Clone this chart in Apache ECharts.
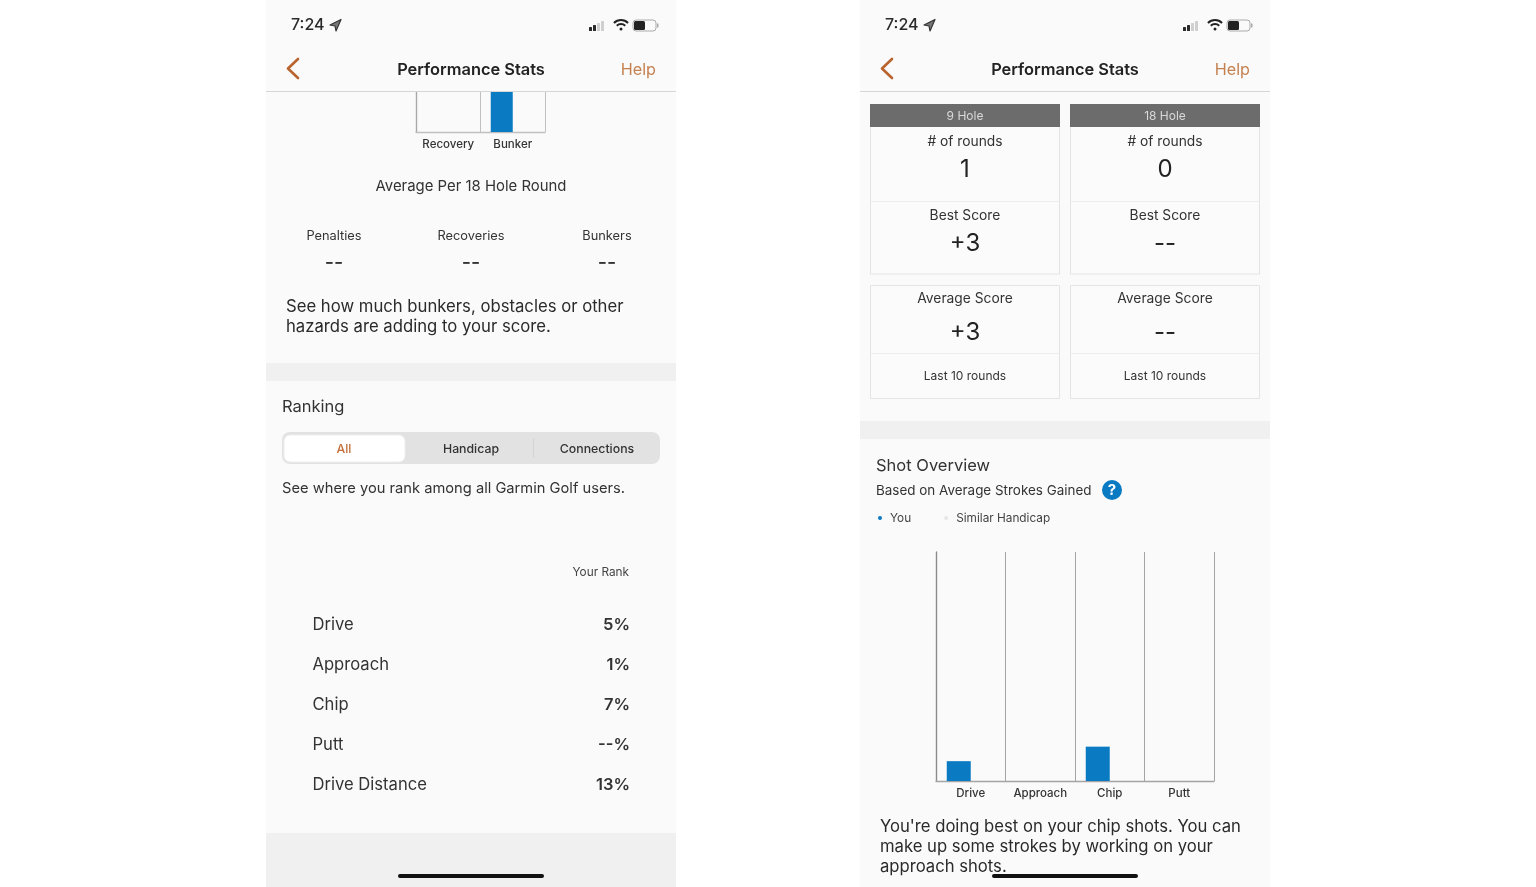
<!DOCTYPE html>
<html>
<head>
<meta charset="utf-8">
<title>Performance Stats</title>
<style>
  html, body { margin: 0; padding: 0; background: #fff; }
  #chart { width: 1536px; height: 887px; }
</style>
<script src="https://cdn.jsdelivr.net/npm/echarts@6/dist/echarts.min.js"></script>
</head>
<body>
<div id="chart"></div>
<script>
// chart data
var shotCategories = ['Drive', 'Approach', 'Chip', 'Putt'];
var shotYou = [0.26, null, 0.45, null];
var shotSimilar = [null, null, null, null];
var hazardCategories = ['Recovery', 'Bunker'];
var hazardYou = [null, 0.9];
var hazardSimilar = [null, null];
var yTickValues = [0.5, 1.5, 2.5];
var yTickLabels = ['Below\nAvg', 'Avg', 'Above\nAvg'];

// table data
var rankNames = ['Drive', 'Approach', 'Chip', 'Putt', 'Drive Distance'];
var rankValues = ['5%', '1%', '7%', '--%', '13%'];
var hazardStatNames = ['Penalties', 'Recoveries', 'Bunkers'];
var hazardStatValues = ['--', '--', '--'];
var rankTabs = ['All', 'Handicap', 'Connections'];

var FONT = 'Inter, "Noto Sans", sans-serif';
var BLUE = '#0a7bc2';
var ORANGE = '#b9632f';
var PHONE_W = 410;
var LEFT_X = 266;
var RIGHT_X = 860;

var els = [];

function rect(x, y, w, h, fill, z, r, stroke) {
    els.push({
        type: 'rect', silent: true, z: z === undefined ? -1 : z,
        shape: { x: x, y: y, width: w, height: h, r: r || 0 },
        style: { fill: fill, stroke: stroke || null, lineWidth: stroke ? 1 : 0 }
    });
}

function text(str, x, y, size, color, align, weight, z) {
    els.push({
        type: 'text', silent: true, z: z === undefined ? 1 : z,
        style: {
            text: str, x: x, y: y + 1, fill: color,
            textAlign: align || 'left', textVerticalAlign: 'middle',
            font: (weight || 400) + ' ' + size + 'px ' + FONT
        }
    });
}

function polyline(points, stroke, width) {
    els.push({
        type: 'polyline', silent: true, z: 101,
        shape: { points: points },
        style: { stroke: stroke, fill: null, lineWidth: width, lineCap: 'round', lineJoin: 'round' }
    });
}

function wifiArc(cx, cy, r) {
    els.push({
        type: 'arc', silent: true, z: 101,
        shape: { cx: cx, cy: cy, r: r, startAngle: -Math.PI * 0.75, endAngle: -Math.PI * 0.25 },
        style: { stroke: '#222', fill: null, lineWidth: 2 }
    });
}

// nav and status bar, sits above the scrolled content
function phoneHeader(ox) {
    rect(ox, 0, PHONE_W, 91, '#fafafa', 100);
    rect(ox, 91, PHONE_W, 1, '#d6d6d6', 100);
    text('7:24', ox + 25, 24, 16, '#2a2a2a', 'left', 500, 101);
    els.push({
        type: 'polygon', silent: true, z: 101,
        shape: { points: [[ox + 64, 25], [ox + 75, 19.5], [ox + 70, 31], [ox + 69, 26]] },
        style: { stroke: '#333', fill: '#777', lineWidth: 1.2, lineJoin: 'round' }
    });
    var bars = [[323, 27, 3], [327, 25, 3], [331, 23, 3], [335, 21, 3]];
    bars.forEach(function (b, i) {
        rect(ox + b[0], b[1], b[2], 31 - b[1], i < 2 ? '#2a2a2a' : '#cfcfcf', 101, 0.5);
    });
    wifiArc(ox + 355, 30, 10);
    wifiArc(ox + 355, 30, 6);
    els.push({
        type: 'circle', silent: true, z: 101,
        shape: { cx: ox + 355, cy: 29, r: 1.5 },
        style: { fill: '#222' }
    });
    rect(ox + 367, 20, 23, 11, '#fafafa', 101, 3, '#aaa');
    rect(ox + 368, 21, 11, 9, '#222', 102, 1.5);
    rect(ox + 391, 23.5, 1.5, 4, '#aaa', 101);
    polyline([[ox + 32, 59], [ox + 22, 68.5], [ox + 32, 78]], ORANGE, 2.6);
    text('Performance Stats', ox + 205, 69, 16.4, '#222', 'center', 600, 101);
    text('Help', ox + 390, 69, 16.2, '#c5814f', 'right', 400, 101);
}

function homeBar(ox) {
    rect(ox + 132, 874, 146, 4, '#111', 101, 2);
}

[LEFT_X, RIGHT_X].forEach(function (ox) {
    rect(ox, 0, PHONE_W, 887, '#fafafa');
    phoneHeader(ox);
    homeBar(ox);
});

// left phone
text('Average Per 18 Hole Round', 471, 186, 14.9, '#333', 'center');
[334, 471, 607].forEach(function (cx, i) {
    text(hazardStatNames[i], cx, 235, 12.8, '#333', 'center');
    text(hazardStatValues[i], cx, 262, 20, '#333', 'center', 500);
});
text('See how much bunkers, obstacles or other', 286, 305.5, 16.7, '#2a2a2a');
text('hazards are adding to your score.', 286, 325.5, 16.7, '#2a2a2a');
rect(LEFT_X, 363, PHONE_W, 18, '#f0f0f0');
text('Ranking', 282, 406, 16.5, '#333');
rect(282, 432, 378, 32, '#e2e2e2', -1, 8);
rect(284, 435, 121, 27, '#ffffff', 0, 6, '#eeeeee');
rect(533, 439, 1, 18, '#d2d2d2', 0);
[344, 471, 597].forEach(function (cx, i) {
    text(rankTabs[i], cx, 448, 12.3, i === 0 ? '#c5703a' : '#333', 'center', 500);
});
text('See where you rank among all Garmin Golf users.', 282, 488, 14.7, '#333');
text('Your Rank', 629, 571, 11.8, '#444', 'right');
rankNames.forEach(function (name, i) {
    var y = 624 + i * 40;
    text(name, 312.5, y, 16.6, '#333');
    text(rankValues[i], 630, y, 16.5, '#333', 'right', 600);
});
rect(LEFT_X, 833, PHONE_W, 54, '#f0f0f0');

// right phone, score cards
function scoreCard(x, head, rounds, best, avg) {
    var cx = x + 95;
    rect(x + 0.5, 104.5, 189, 169.5, '#fbfbfb', -1, 0, '#e4e4e4');
    rect(x, 104, 190, 23, '#6c6c6c', 0);
    text(head, cx, 115, 12, '#d9d9d9', 'center');
    text('# of rounds', cx, 141, 13.8, '#333', 'center');
    text(rounds, cx, 169, 24, '#222', 'center');
    rect(x + 1, 201, 188, 1, '#eeeeee', 0);
    text('Best Score', cx, 214.5, 13.8, '#333', 'center');
    text(best, cx, 243, 24, '#222', 'center');
    rect(x + 0.5, 285.5, 189, 113, '#fbfbfb', -1, 0, '#e4e4e4');
    text('Average Score', cx, 297.5, 13.8, '#333', 'center');
    text(avg, cx, 332, 24, '#222', 'center');
    rect(x + 1, 353, 188, 1, '#eeeeee', 0);
    text('Last 10 rounds', cx, 375, 12, '#333', 'center');
}
scoreCard(870, '9 Hole', '1', '+3', '+3');
scoreCard(1070, '18 Hole', '0', '--', '--');
rect(RIGHT_X, 421, PHONE_W, 18, '#f0f0f0');

text('Shot Overview', 876, 465, 16.5, '#333');
text('Based on Average Strokes Gained', 876, 489.5, 13.45, '#333');
els.push({
    type: 'circle', silent: true, z: 1,
    shape: { cx: 1112, cy: 490, r: 10 },
    style: { fill: BLUE }
});
text('?', 1112, 489.5, 15, '#fff', 'center', 700, 2);
text("You're doing best on your chip shots. You can", 880, 826, 16.65, '#2a2a2a');
text('make up some strokes by working on your', 880, 846, 16.65, '#2a2a2a');
text('approach shots.', 880, 866, 16.65, '#2a2a2a');

function xAxisFor(grid, cats, lineColor) {
    return {
        type: 'category', gridIndex: grid, data: cats,
        axisTick: { show: false },
        axisLine: { lineStyle: { color: lineColor, width: 1.4 } },
        splitLine: { show: true, lineStyle: { color: lineColor, width: 1 } },
        axisLabel: { color: '#333', fontFamily: FONT, fontSize: 11.5, fontWeight: 500, margin: 7, interval: 0 }
    };
}

// labelShift nudges the tick labels down a little, in axis units
function yAxisFor(grid, lineColor, labelShift) {
    return {
        type: 'value', gridIndex: grid, min: 0, max: 3, interval: 0.5,
        axisLine: { show: true, lineStyle: { color: lineColor, width: 1.4 } },
        axisTick: { show: false },
        splitLine: { show: false },
        axisLabel: {
            color: '#555', fontFamily: FONT, fontSize: 9.5, margin: 4, lineHeight: 11,
            customValues: yTickValues.map(function (v) { return v - labelShift; }),
            formatter: function (v, i) { return yTickLabels[i]; }
        }
    };
}

function barSeries(name, data, color, axisIndex, width) {
    return {
        name: name, type: 'bar', data: data,
        xAxisIndex: axisIndex, yAxisIndex: axisIndex,
        barWidth: width, barGap: 0,
        itemStyle: { color: color },
        silent: true
    };
}

var option = {
    animation: false,
    backgroundColor: '#ffffff',
    legend: {
        left: 873, top: 507,
        data: ['You', 'Similar Handicap'],
        icon: 'circle', itemWidth: 4, itemHeight: 4, itemGap: 33,
        selectedMode: false,
        textStyle: { color: '#444', fontFamily: FONT, fontSize: 11.8, padding: [0, 0, 0, 3] }
    },
    grid: [
        { left: 936, top: 552, width: 278, height: 229, outerBoundsMode: 'none' },
        // scrolled under the nav bar, top of this grid is off the page
        { left: 416, top: -75, width: 129, height: 207, outerBoundsMode: 'none' }
    ],
    xAxis: [
        xAxisFor(0, shotCategories, '#a4a4a4'),
        xAxisFor(1, hazardCategories, '#c0c0c0')
    ],
    yAxis: [
        yAxisFor(0, '#8c8c8c', 0.03),
        yAxisFor(1, '#a8a8a8', 0)
    ],
    series: [
        barSeries('You', shotYou, BLUE, 0, 24),
        barSeries('Similar Handicap', shotSimilar, '#e6e6e6', 0, 24),
        barSeries('You', hazardYou, BLUE, 1, 22),
        barSeries('Similar Handicap', hazardSimilar, '#e6e6e6', 1, 22)
    ],
    graphic: { elements: els }
};

var myChart = echarts.init(document.getElementById('chart'));
myChart.setOption(option);
</script>
</body>
</html>
